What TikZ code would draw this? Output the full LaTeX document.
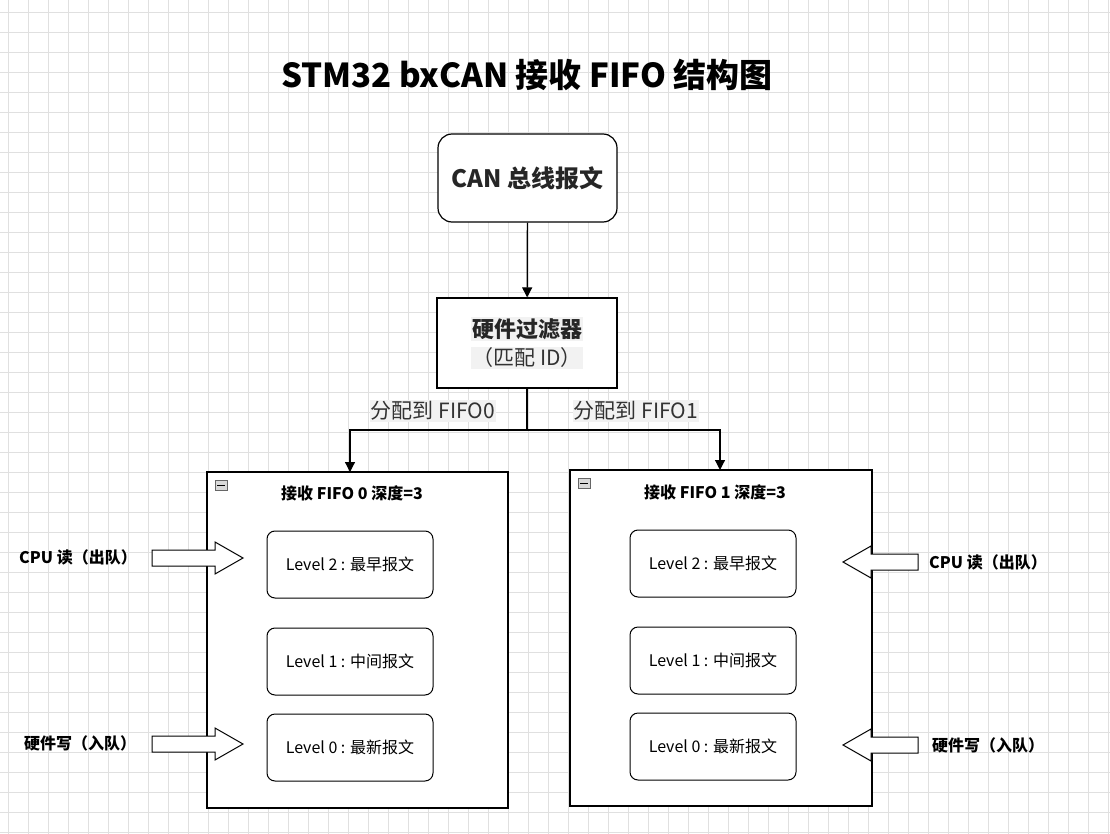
\documentclass[tikz,border=0pt]{standalone}
\usepackage{fontspec}
\setmainfont{Noto Sans CJK SC}
\usetikzlibrary{arrows.meta}
\begin{document}
\begin{tikzpicture}[x=1pt,y=-1pt,
  box/.style={draw,line width=1.2pt,fill=white,inner sep=0pt},
  lvl/.style={draw=black,line width=1pt,rounded corners=8pt,fill=white,minimum width=166pt,minimum height=67pt,font=\fontsize{16}{19}\selectfont},
  cont/.style={draw,line width=1.2pt,fill=white},
  arr/.style={-{Triangle[length=10pt,width=10pt]},line width=1.2pt},
  lab/.style={font=\fontsize{21}{25}\selectfont,fill=black!5,inner sep=1pt,text=black!80},
  side/.style={font=\bfseries\fontsize{16}{19}\selectfont},
  blk/.style={draw,line width=1pt,fill=white}]
\useasboundingbox (0,0) rectangle (1110,834);
\fill[white] (0,0) rectangle (1110,834);
\foreach \i in {0,20,...,1100} \draw[black!12,line width=0.6pt] (\i+8,0) -- (\i+8,834);
\foreach \i in {0,20,...,820} \draw[black!12,line width=0.6pt] (0,\i+12) -- (1110,\i+12);
\node[font=\bfseries\fontsize{33}{38}\selectfont] (title) at (527,75) {STM32 bxCAN 接收 FIFO 结构图};
\node[box,rounded corners=14pt,minimum width=179pt,minimum height=88pt,font=\bfseries\fontsize{24}{28}\selectfont,text=black!85] (can) at (527.5,178) {CAN 总线报文};
\node[box,minimum width=180pt,minimum height=90pt] (flt) at (527,343) {};
\node[font=\bfseries\fontsize{22}{26}\selectfont,fill=black!5,inner sep=1pt,text=black!85] (flt1) at (527,329) {硬件过滤器};
\node[lab] (flt2) at (527,358) {（匹配 ID）};
\draw[arr] (can) -- (flt);
\coordinate (j) at (527,430);
\node[cont,minimum width=301pt,minimum height=336pt] (c0) at (357.5,640) {};
\node[cont,minimum width=302pt,minimum height=336pt] (c1) at (721,638) {};
\draw[arr] (flt.south) -- (j) -| (350,472);
\draw[arr] (j) -| (720,470);
\node[lab] (l0) at (433,411) {分配到 FIFO0};
\node[lab] (l1) at (636,411) {分配到 FIFO1};
\foreach \c/\x/\y in {c0/221/485,c1/584/483}{
  \draw[black!60,fill=black!15] (\x-6,\y-5) rectangle (\x+6,\y+5);
  \draw[line width=1pt] (\x-4,\y) -- (\x+4,\y);}
\node[font=\bfseries\fontsize{16}{19}\selectfont] (h0) at (352,493) {接收 FIFO 0 深度=3};
\node[font=\bfseries\fontsize{16}{19}\selectfont] (h1) at (715,492) {接收 FIFO 1 深度=3};
\node[lvl] (a2) at (350,564.5) {Level 2 : 最早报文};
\node[lvl] (a1) at (350,661.5) {Level 1 : 中间报文};
\node[lvl] (a0) at (350,747.5) {Level 0 : 最新报文};
\node[lvl] (b2) at (713,563.5) {Level 2 : 最早报文};
\node[lvl] (b1) at (713,660.5) {Level 1 : 中间报文};
\node[lvl] (b0) at (713,746.5) {Level 0 : 最新报文};
\foreach \y in {558,744}
  \draw[blk] (152,\y-8) -- (215,\y-8) -- (215,\y-16) -- (243,\y) -- (215,\y+16) -- (215,\y+8) -- (152,\y+8) -- cycle;
\foreach \y in {562,745}
  \draw[blk] (918,\y-8) -- (871,\y-8) -- (871,\y-16) -- (843,\y) -- (871,\y+16) -- (871,\y+8) -- (918,\y+8) -- cycle;
\node[side] (s1) at (78,557) {CPU 读（出队）};
\node[side] (s2) at (80,743) {硬件写（入队）};
\node[side] (s3) at (988,562) {CPU 读（出队）};
\node[side] (s4) at (988,745) {硬件写（入队）};
\end{tikzpicture}
\end{document}
